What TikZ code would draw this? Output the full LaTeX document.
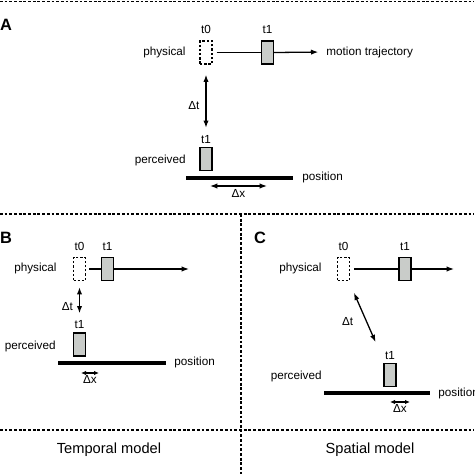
\documentclass[tikz,border=0pt]{standalone}
\usepackage{fontspec}
\setmainfont{Liberation Sans}
\usetikzlibrary{arrows.meta}
\definecolor{boxgray}{RGB}{201,204,201}

\begin{document}
\begin{tikzpicture}[x=0.03cm, y=-0.03cm, every node/.style={font=\fontsize{10}{12}\selectfont, inner sep=1pt}, >={Latex[length=2.2mm,width=1.6mm]},
	sep/.style={line width=1.1pt, dash pattern=on 2.4pt off 1.6pt},
	obj/.style={draw, line width=1.1pt, minimum width=0.36cm, minimum height=0.69cm, inner sep=0pt},
	ghost/.style={obj, dash pattern=on 2pt off 1.6pt},
	seen/.style={obj, fill=boxgray},
	hi/.style={label={[label distance=4.5pt]above:#1}},
	lo/.style={label={[label distance=2pt]above:#1}},
	traj/.style={->, line width=1.1pt},
	lag/.style={<->, line width=1.1pt},
	lagsmall/.style={{Latex[length=1.5mm,width=1.3mm]}-{Latex[length=1.5mm,width=1.3mm]}, line width=1pt},
	bar/.style={line width=3.6pt},
	tag/.style={font=\fontsize{14}{16}\selectfont\bfseries},
	model/.style={font=\fontsize{12.5}{15}\selectfont}]
	\useasboundingbox (0,0) rectangle (474,474);
	\clip (0,0) rectangle (474,474);
	\draw[sep] (0,1.2) -- (474,1.2);
	\draw[sep] (0,214) -- (474,214);
	\draw[sep] (0,430) -- (474,430);
	\draw[sep] (241,214) -- (241,474);
	\node[tag, anchor=west, inner sep=0pt] (la) at (0,25) {A};
	\node[ghost, hi=t0] (a0) at (206,52.5) {};
	\node[seen, hi=t1] (a1) at (267.5,52.5) {};
	\node[anchor=east] (aphy) at (187,52) {physical};
	\node[anchor=west] (amot) at (325,52) {motion trajectory};
	\draw[line width=1.1pt, shorten <=0.12cm] (a0.east) -- (a1.west);
	\draw[traj, shorten >=0.2cm] (a1.east) -- (amot.west);
	\node[seen, lo=t1] (ap) at (206,159) {};
	\node[anchor=east] (aper) at (187,160) {perceived};
	\draw[lag, shorten <=0.3cm, shorten >=0.57cm] (a0) -- (ap) node[midway, left=4pt] {Δt};
	\coordinate (ab0) at (186,178);
	\coordinate (ab1) at (293,178);
	\draw[bar] (ab0) -- (ab1);
	\node[anchor=west] (apos) at (301,177) {position};
	\coordinate (ax0) at (210,186);
	\coordinate (ax1) at (267,186);
	\draw[lag] (ax0) -- (ax1) node[midway, below=1pt] {Δx};
	\node[tag, anchor=west, inner sep=0pt] (lb) at (0,238) {B};
	\node[ghost, hi=t0] (b0) at (79.5,269) {};
	\node[seen, hi=t1] (b1) at (107.5,269) {};
	\node[anchor=east] (bphy) at (58,268) {physical};
	\coordinate (bend) at (189,269);
	\draw[line width=1.1pt, shorten <=0.09cm] (b0.east) -- (b1.west);
	\draw[traj] (b1.east) -- (bend);
	\node[seen, lo=t1] (bp) at (79.5,344.5) {};
	\node[anchor=east] (bper) at (57,346) {perceived};
	\draw[lag, shorten <=0.18cm, shorten >=0.57cm] (b0) -- (bp) node[midway, left=4pt] {Δt};
	\coordinate (bb0) at (58,363);
	\coordinate (bb1) at (166,363);
	\draw[bar] (bb0) -- (bb1);
	\node[anchor=west] (bpos) at (173,362) {position};
	\coordinate (bx0) at (81,373);
	\coordinate (bx1) at (99,373);
	\draw[lagsmall] (bx0) -- (bx1) node[midway, below=1pt] {Δx};
	\node[model] (bmod) at (109,450) {Temporal model};
	\node[tag] (lc) at (260,238) {C};
	\node[ghost, hi=t0] (c0) at (343.5,269) {};
	\node[seen, hi=t1] (c1) at (405,269) {};
	\node[anchor=east] (cphy) at (323,268) {physical};
	\coordinate (cend) at (454,269);
	\draw[line width=1.1pt, shorten <=0.12cm] (c0.east) -- (c1.west);
	\draw[traj] (c1.east) -- (cend);
	\node[seen, lo=t1] (cp) at (390,375) {};
	\node[anchor=east] (cper) at (323,376) {perceived};
	\draw[lag, shorten <=0.38cm, shorten >=0.68cm] (c0) -- (cp) node[midway, left=10pt] {Δt};
	\coordinate (cb0) at (324,393);
	\coordinate (cb1) at (430,393);
	\draw[bar] (cb0) -- (cb1);
	\node[anchor=west] (cpos) at (437,393) {position};
	\coordinate (cx0) at (390,402);
	\coordinate (cx1) at (410,402);
	\draw[lagsmall] (cx0) -- (cx1) node[midway, below=1pt] {Δx};
	\node[model] (cmod) at (370,450) {Spatial model};
\end{tikzpicture}
\end{document}
